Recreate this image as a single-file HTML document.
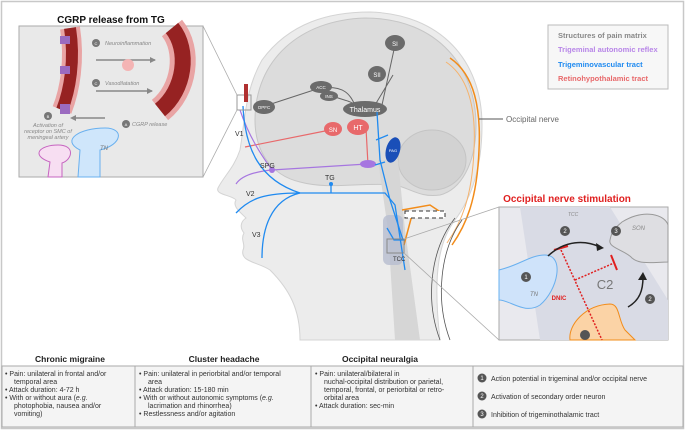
<!DOCTYPE html>
<html><head><meta charset="utf-8"><style>
html,body{margin:0;padding:0;background:#fff;}
body{width:685px;height:430px;overflow:hidden;font-family:"Liberation Sans",sans-serif;}
svg text{font-family:"Liberation Sans",sans-serif;}
</style></head><body>
<svg width="685" height="430" viewBox="0 0 685 430" xmlns="http://www.w3.org/2000/svg">
<rect x="1.5" y="1.5" width="682" height="427" fill="#fff" stroke="#c8c8c8" stroke-width="1.5"/>
<!-- head silhouette -->
<path d="M300,340 C300,310 290,290 270,270 C258,262 240,262 243,250 C246,244 240,240 244,233 C240,228 240,222 246,218 C240,212 232,206 236,200 C232,195 215,195 218,188 C224,176 234,168 240,150 C245,120 245,90 262,60 C290,22 330,12 370,12 C440,14 482,60 482,125 C482,170 470,200 455,220 C440,240 432,270 440,340 Z" fill="#ececec" stroke="#d4d4d4"/>
<!-- brain -->
<path d="M255,120 C255,60 300,20 365,18 C440,18 476,70 476,125 C476,165 460,190 440,195 C420,198 410,188 395,185 C360,182 330,190 300,182 C270,175 255,150 255,120 Z" fill="#dcdcdc" stroke="#c6c6c6"/>
<ellipse cx="432" cy="160" rx="34" ry="30" fill="#d2d2d2" stroke="#c4c4c4"/>
<path d="M378,160 L388,230 L395,340 L420,340 L405,230 L398,160 Z" fill="#d6d6d6"/>
<rect x="383" y="215" width="20" height="50" rx="6" fill="#b7bdd0" opacity="0.8"/>
<!-- occipital nerve orange -->
<path d="M450,58 C475,75 481,110 479,150 C477,200 466,225 452,245" fill="none" stroke="#f28c1a" stroke-width="1.5"/>
<path d="M446,62 C470,78 476,112 474,150 C472,198 461,223 447,243" fill="none" stroke="#f6b26b" stroke-width="1"/>
<path d="M402,210 L430,205 L445,215 M404,245 L412,215" fill="none" stroke="#f28c1a" stroke-width="1.5"/>
<rect x="405" y="211" width="40" height="7" fill="#fff" stroke="#333" stroke-width="1" stroke-dasharray="4,3"/>
<path d="M455,218 C430,250 425,300 440,340 M462,220 C440,250 435,300 450,340" fill="none" stroke="#555" stroke-width="0.8"/>
<line x1="503" y1="119" x2="479" y2="119" stroke="#555"/>
<text x="506" y="122" font-size="8" fill="#666">Occipital nerve</text>
<!-- gray pain matrix -->
<g stroke="#666" stroke-width="1" fill="none">
<path d="M268,105 L320,88 M320,88 C345,85 350,95 355,105 M328,94 C340,100 350,100 355,105 M375,105 L393,75 M382,105 L395,45"/>
</g>
<ellipse cx="395" cy="43" rx="10" ry="8" fill="#6b6b6b"/><text x="395" y="46" font-size="6" fill="#fff" text-anchor="middle">SI</text>
<ellipse cx="377" cy="74" rx="9" ry="8" fill="#6b6b6b"/><text x="377" y="77" font-size="6" fill="#fff" text-anchor="middle">SII</text>
<ellipse cx="321" cy="87" rx="11" ry="6" fill="#6b6b6b"/><text x="321" y="89" font-size="4.5" fill="#fff" text-anchor="middle">ACC</text>
<ellipse cx="329" cy="96" rx="9" ry="5" fill="#6b6b6b"/><text x="329" y="98" font-size="4.5" fill="#fff" text-anchor="middle">INS</text>
<ellipse cx="264" cy="107" rx="11" ry="7" fill="#6b6b6b"/><text x="264" y="109" font-size="4.5" fill="#fff" text-anchor="middle">OPFC</text>
<ellipse cx="365" cy="109" rx="22" ry="8" fill="#6b6b6b"/><text x="365" y="112" font-size="7" fill="#fff" text-anchor="middle">Thalamus</text>
<!-- red -->
<path d="M245,147 L330,130 M350,128 L366,127 M366,128 L368,165" stroke="#e8696b" stroke-width="1.2" fill="none"/>
<ellipse cx="333" cy="129" rx="9" ry="7" fill="#e8696b"/><text x="333" y="132" font-size="6" fill="#fff" text-anchor="middle">SN</text>
<ellipse cx="358" cy="127" rx="11" ry="8" fill="#e8696b"/><text x="358" y="130" font-size="7" fill="#fff" text-anchor="middle">HT</text>
<!-- purple -->
<path d="M240,110 C250,140 265,160 272,170 L367,164 M272,170 C250,172 240,178 236,184" stroke="#a676e0" stroke-width="1.2" fill="none"/>
<circle cx="272" cy="170" r="3" fill="#a676e0"/>
<ellipse cx="368" cy="164" rx="8" ry="4" fill="#a676e0"/>
<!-- dark blue PAG -->
<ellipse cx="393" cy="150" rx="7" ry="13" fill="#1a4fb8" transform="rotate(15 393 150)"/>
<text x="393" y="152" font-size="4" fill="#fff" text-anchor="middle">PAG</text>
<!-- blue trigeminovascular -->
<g stroke="#1f8af0" stroke-width="1.3" fill="none">
<path d="M243,106 C245,150 260,180 300,193"/>
<path d="M236,213 C250,198 265,193 300,193 L385,193 L395,205 L405,270"/>
<path d="M300,193 C270,200 262,230 262,258"/>
<path d="M377,112 L380,160 L390,200 L403,240"/>
<path d="M376,140 L388,135 M375,165 L385,162 M387,228 L394,240 L405,240"/>
<line x1="331" y1="193" x2="331" y2="185"/>
</g>
<circle cx="331" cy="184" r="2" fill="#1f8af0"/>
<text x="235" y="136" font-size="7" fill="#333">V1</text>
<text x="260" y="168" font-size="7" fill="#333">SPG</text>
<text x="325" y="180" font-size="7" fill="#333">TG</text>
<text x="246" y="196" font-size="7" fill="#333">V2</text>
<text x="252" y="237" font-size="7" fill="#333">V3</text>
<text x="393" y="261" font-size="6" fill="#333">TCC</text>
<rect x="387" y="239" width="17" height="14" fill="none" stroke="#888"/>
<rect x="237" y="95" width="14" height="15" fill="none" stroke="#999"/>
<rect x="244" y="84" width="4" height="18" fill="#b03030"/>
<!-- connector lines -->
<g stroke="#aaa" stroke-width="0.8"><line x1="203" y1="26" x2="237" y2="95"/><line x1="203" y1="177" x2="237" y2="110"/><line x1="404" y1="239" x2="499" y2="207"/><line x1="404" y1="253" x2="499" y2="340"/></g>
<!-- legend -->
<rect x="548" y="25" width="120" height="64" fill="#f7f7f7" stroke="#bbb"/>
<text x="558" y="38" font-size="7.5" font-weight="bold" fill="#888">Structures of pain matrix</text>
<text x="558" y="52" font-size="7.5" font-weight="bold" fill="#b886e8">Trigeminal autonomic reflex</text>
<text x="558" y="67" font-size="7.5" font-weight="bold" fill="#1f8af0">Trigeminovascular tract</text>
<text x="558" y="81" font-size="7.5" font-weight="bold" fill="#e8696b">Retinohypothalamic tract</text>
<!-- top-left inset -->
<text x="111" y="23" font-size="10" font-weight="bold" fill="#111" text-anchor="middle">CGRP release from TG</text>
<rect x="19" y="26" width="184" height="151" fill="#e9e9e9" stroke="#aaa"/>
<path d="M70,28 C75,60 70,90 62,110" stroke="#e9a4a4" stroke-width="20" fill="none"/>
<path d="M70,28 C75,60 70,90 62,110" stroke="#962222" stroke-width="12" fill="none"/>
<path d="M172,28 C190,50 185,90 160,110" stroke="#e9a4a4" stroke-width="26" fill="none"/>
<path d="M172,28 C190,50 185,90 160,110" stroke="#962222" stroke-width="16" fill="none"/>
<rect x="60" y="36" width="10" height="8" fill="#9b6bc0"/><rect x="60" y="66" width="10" height="8" fill="#9b6bc0"/><rect x="60" y="104" width="10" height="10" fill="#9b6bc0"/>
<g fill="#777"><circle cx="96" cy="43" r="4"/><circle cx="96" cy="83" r="4"/><circle cx="48" cy="116" r="4"/><circle cx="126" cy="124" r="4"/></g>
<g fill="#fff" font-size="4" text-anchor="middle"><text x="96" y="45">C</text><text x="96" y="85">C</text><text x="48" y="118">B</text><text x="126" y="126">A</text></g>
<g font-size="5.5" font-style="italic" fill="#888"><text x="105" y="45">Neuroinflammation</text><text x="105" y="85">Vasodilatation</text><text x="132" y="126">CGRP release</text>
<text x="48" y="127" text-anchor="middle">Activation of</text><text x="48" y="133" text-anchor="middle">receptor on SMC of</text><text x="48" y="139" text-anchor="middle">meningeal artery</text></g>
<g stroke="#888" stroke-width="1.5"><line x1="96" y1="60" x2="155" y2="60"/><line x1="96" y1="91" x2="152" y2="91"/><line x1="105" y1="118" x2="72" y2="118"/></g>
<path d="M156,60 l-6,-3 v6z M153,91 l-6,-3 v6z M70,118 l6,-3 v6z" fill="#888"/>
<circle cx="128" cy="65" r="6" fill="#f4b4b4"/>
<path d="M78,177 L80,150 C60,140 80,128 105,128 C125,128 122,145 100,150 L100,177Z" fill="#cfe6fb" stroke="#69b0ef"/>
<text x="100" y="150" font-size="6" font-style="italic" fill="#777">TN</text>
<path d="M48,177 L50,162 C30,155 40,145 58,145 C76,145 72,160 62,163 L62,177Z" fill="#f7def2" stroke="#c664c0"/>
<!-- right inset -->
<text x="567" y="202" font-size="10" font-weight="bold" fill="#e02020" text-anchor="middle">Occipital nerve stimulation</text>
<rect x="499" y="207" width="169" height="133" fill="#e9e9ee" stroke="#aaa"/>
<path d="M520,207 L610,207 L668,300 L668,340 L540,340 Z" fill="#d9dbe5"/>
<path d="M622,222 C645,208 665,215 668,225 L668,262 C655,262 640,265 632,258 C625,250 608,248 610,240 C612,230 615,228 622,222 Z" fill="#dedee2" stroke="#999"/>
<text x="632" y="230" font-size="6" font-style="italic" fill="#888">SON</text>
<circle cx="616" cy="231" r="5" fill="#555"/><text x="616" y="233" font-size="6" fill="#fff" text-anchor="middle">3</text>
<path d="M499,270 C520,265 530,255 545,255 C565,255 558,290 540,305 C525,315 510,300 499,300Z" fill="#cfe3fa" stroke="#69b0ef"/>
<text x="530" y="296" font-size="6" font-style="italic" fill="#777">TN</text>
<circle cx="526" cy="277" r="5" fill="#555"/><text x="526" y="279" font-size="6" fill="#fff" text-anchor="middle">1</text>
<path d="M570,340 C568,325 585,305 610,304 C620,304 618,320 625,330 C630,335 635,340 635,340Z" fill="#fbd3a6" stroke="#f28c1a"/>
<circle cx="585" cy="335" r="5" fill="#555"/>
<text x="605" y="289" font-size="13" fill="#777" text-anchor="middle">C2</text>
<text x="559" y="300" font-size="6" font-weight="bold" fill="#e02020" text-anchor="middle">DNIC</text>
<g stroke="#e02020" stroke-width="2" fill="none"><line x1="554" y1="250" x2="568" y2="246"/><line x1="611" y1="255" x2="617" y2="270"/></g>
<g stroke="#e02020" stroke-width="1.5" stroke-dasharray="2,1.5" fill="none"><line x1="561" y1="250" x2="602" y2="340"/><line x1="575" y1="280" x2="614" y2="263"/></g>
<path d="M548,256 C565,240 585,240 600,247" stroke="#222" stroke-width="1.5" fill="none"/><path d="M604,248 l-8,-5 l1,8z" fill="#222"/>
<path d="M628,307 C640,300 643,290 643,277" stroke="#222" stroke-width="1.5" fill="none"/><path d="M643,272 l-5,8 h9z" fill="#222"/>
<circle cx="565" cy="231" r="5" fill="#555"/><text x="565" y="233" font-size="6" fill="#fff" text-anchor="middle">2</text>
<circle cx="650" cy="299" r="5" fill="#555"/><text x="650" y="301" font-size="6" fill="#fff" text-anchor="middle">2</text>
<text x="568" y="216" font-size="5" font-style="italic" fill="#888">TCC</text>
<!-- table -->
<g font-size="8.5" fill="#222" text-anchor="middle" font-weight="bold">
<text x="70" y="362">Chronic migraine</text><text x="224" y="362">Cluster headache</text><text x="380" y="362">Occipital neuralgia</text></g>
<rect x="2" y="366" width="681" height="61" fill="#f4f4f4" stroke="#aaa"/>
<g stroke="#aaa"><line x1="135" y1="366" x2="135" y2="427"/><line x1="311" y1="366" x2="311" y2="427"/><line x1="473" y1="366" x2="473" y2="427"/></g>
<g font-size="7" fill="#333">
<text x="5" y="376">•  Pain: unilateral in frontal and/or</text><text x="14" y="384">temporal area</text><text x="5" y="392">•  Attack duration: 4-72 h</text><text x="5" y="400">•  With or without aura (<tspan font-style="italic">e.g.</tspan></text><text x="14" y="408">photophobia, nausea and/or</text><text x="14" y="416">vomiting)</text>
<text x="139" y="376">•  Pain: unilateral in periorbital and/or temporal</text><text x="148" y="384">area</text><text x="139" y="392">•  Attack duration: 15-180 min</text><text x="139" y="400">•  With or without autonomic symptoms (<tspan font-style="italic">e.g.</tspan></text><text x="148" y="408">lacrimation and rhinorrhea)</text><text x="139" y="416">•  Restlessness and/or agitation</text>
<text x="315" y="376">•  Pain: unilateral/bilateral in</text><text x="324" y="384">nuchal-occipital distribution or parietal,</text><text x="324" y="392">temporal, frontal, or periorbital or retro-</text><text x="324" y="400">orbital area</text><text x="315" y="408">•  Attack duration: sec-min</text>
<text x="491" y="381">Action potential in trigeminal and/or occipital nerve</text><text x="491" y="399">Activation of secondary order neuron</text><text x="491" y="417">Inhibition of trigeminothalamic tract</text></g>
<g fill="#555"><circle cx="482" cy="378" r="4.5"/><circle cx="482" cy="396" r="4.5"/><circle cx="482" cy="414" r="4.5"/></g>
<g fill="#fff" font-size="6" text-anchor="middle"><text x="482" y="380">1</text><text x="482" y="398">2</text><text x="482" y="416">3</text></g>
</svg>
</body></html>
